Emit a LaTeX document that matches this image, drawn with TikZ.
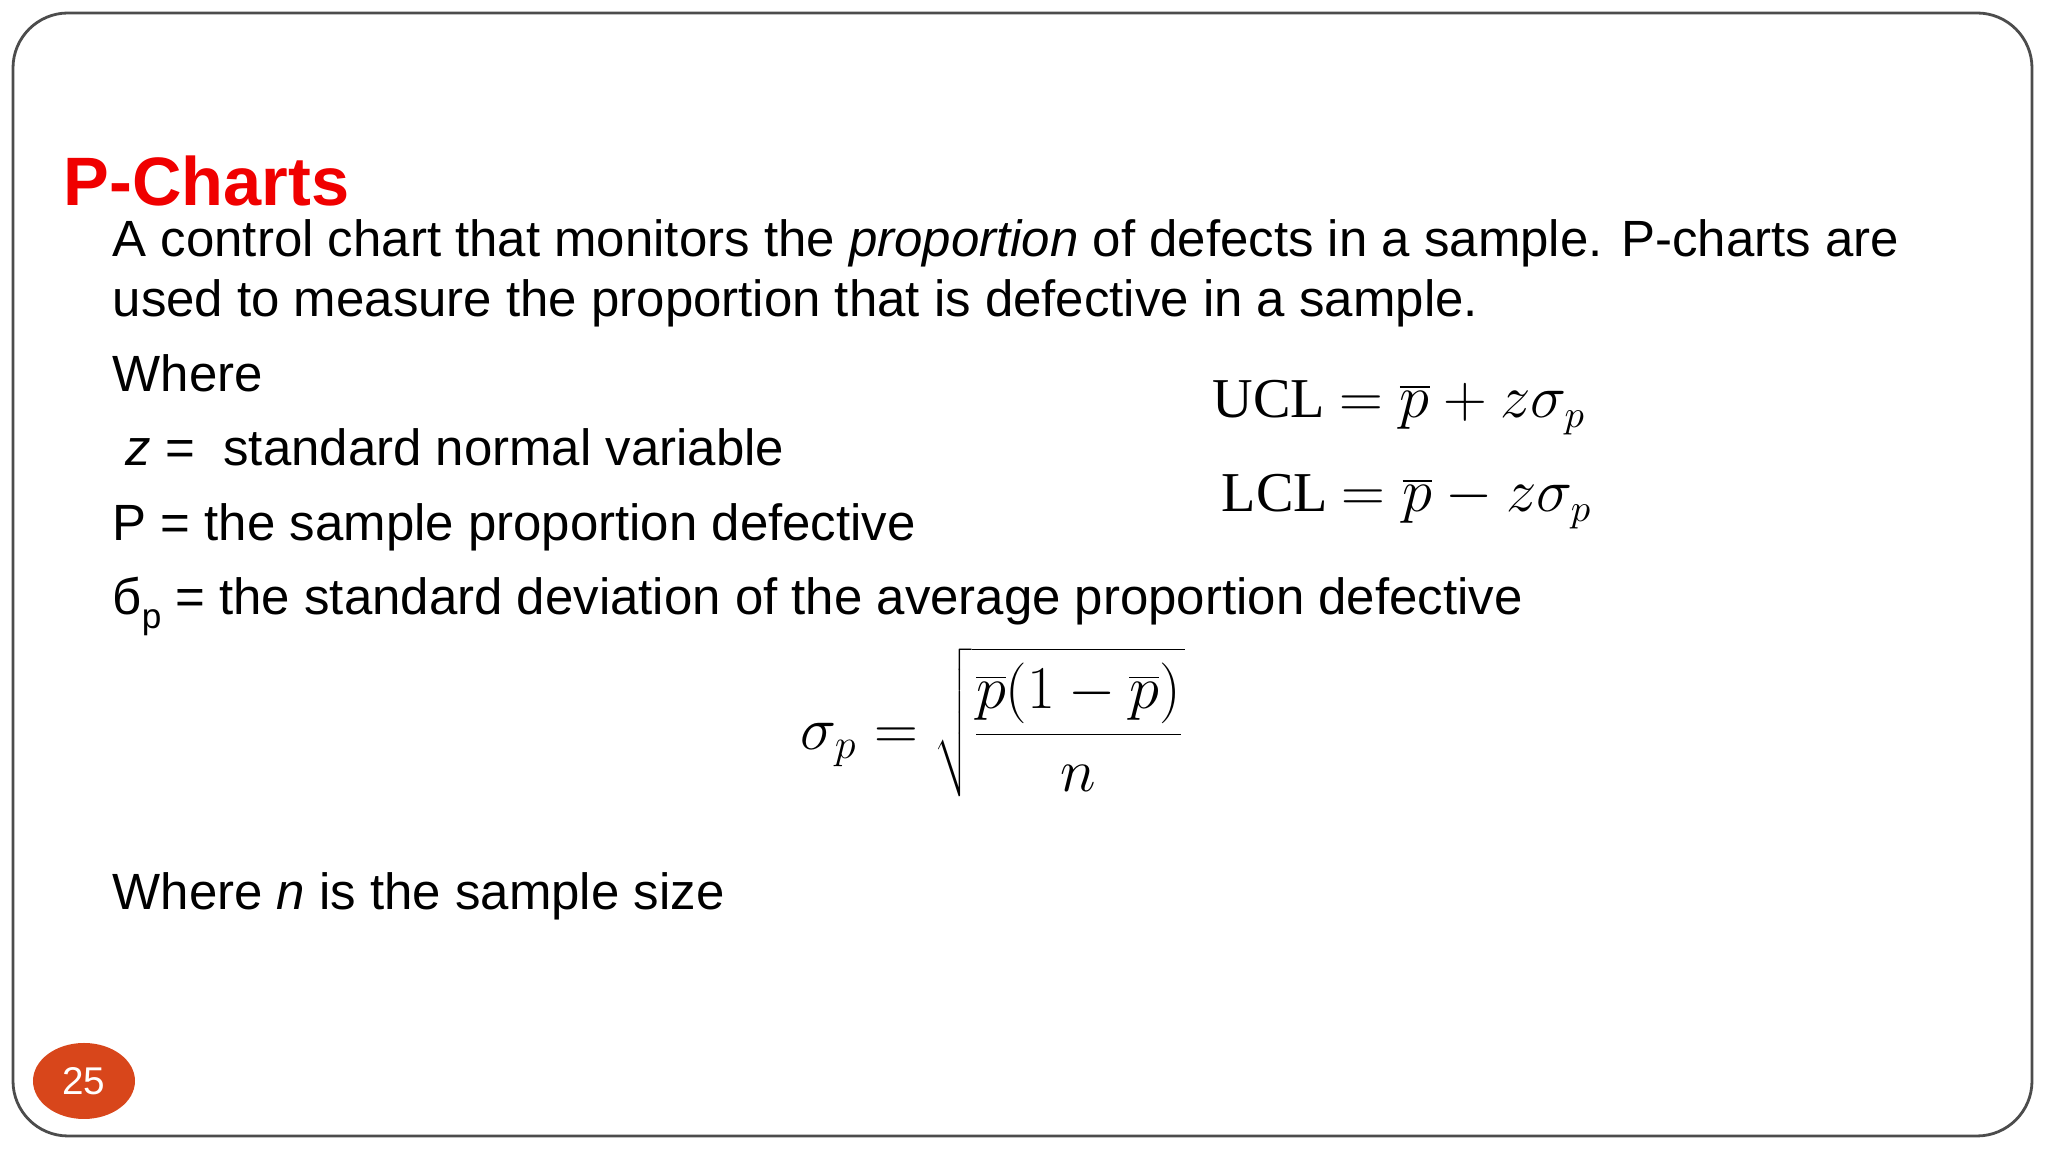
\documentclass[tikz,border=0pt]{standalone}
\usepackage{fontspec}
\usetikzlibrary{shapes.geometric}
\setmainfont{Liberation Sans}
\newfontfamily\serifm{Liberation Serif}
\definecolor{titlered}{HTML}{F00000}
\definecolor{badge}{HTML}{D8461B}
\begin{document}
\begin{tikzpicture}[x=1cm,y=1cm,
  body/.style={anchor=base west,inner sep=0pt,font=\fontsize{14.5pt}{17pt}\selectfont},
  frm/.style={anchor=base west,inner sep=0pt,font=\fontsize{16pt}{19pt}\selectfont}]
\useasboundingbox (0,0) rectangle (20.48,11.52);
\draw[black!70,line width=0.8pt,rounded corners=0.55cm] (0.13,0.16) rectangle (20.32,11.39);
\node[anchor=base west,inner sep=0pt,text=titlered,font=\fontsize{19.5pt}{23pt}\selectfont\bfseries] (title) at (0.63,9.46) {P-Charts};
\node[body] (l1) at (1.12,8.95) {A control chart that monitors the \textit{proportion} of defects in a sample. P-charts are};
\node[body] (l2) at (1.12,8.35) {used to measure the proportion that is defective in a sample.};
\node[body] (l3) at (1.12,7.60) {Where};
\node[body] (l4) at (1.25,6.86) {\textit{z} =\ \ standard normal variable};
\node[body] (l5) at (1.12,6.11) {P = the sample proportion defective};
\node[body] (l6) at (1.12,5.37) {б\raisebox{-0.5ex}{\fontsize{10pt}{12pt}\selectfont p} = the standard deviation of the average proportion defective};
\node[body] (l7) at (1.12,2.42) {Where \textit{n} is the sample size};
\node[frm] (ucl) at (12.12,7.34) {\serifm UCL $=\overline{p}+z\sigma_p$};
\node[frm] (lcl) at (12.21,6.40) {\serifm LCL $=\overline{p}-z\sigma_p$};
\node[inner sep=0pt,font=\fontsize{17pt}{20pt}\selectfont] (sig) at (9.93,4.30) {$\displaystyle\sigma_p=\sqrt{\frac{\overline{p}(1-\overline{p})}{n}}$};
\node[ellipse,fill=badge,minimum width=1.02cm,minimum height=0.76cm,inner sep=0pt,text=white,font=\fontsize{11pt}{13pt}\selectfont] (pg) at (0.84,0.71) {25};
\end{tikzpicture}
\end{document}
